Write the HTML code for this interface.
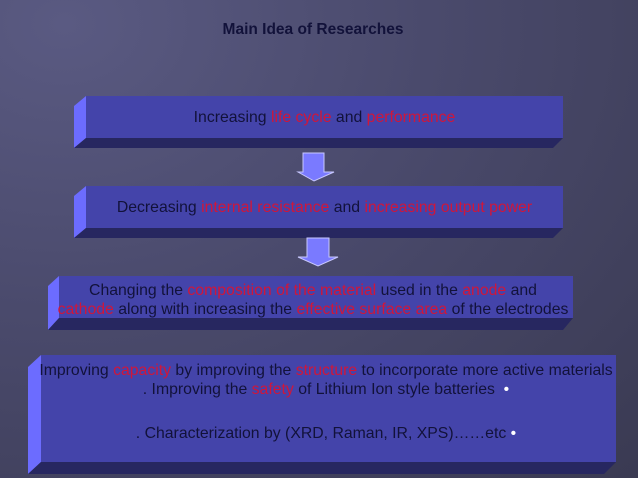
<!DOCTYPE html>
<html><head><style>
html,body{margin:0;padding:0}
body{width:638px;height:478px;overflow:hidden;position:relative;background:radial-gradient(ellipse at 10% 5%,#5a5a82 0%,#4a4a6c 45%,#3a3a52 100%);font-family:"Liberation Sans",sans-serif}
.t{position:absolute;font-size:15.8px;color:#12123a;text-align:center;white-space:nowrap}
.r{color:#d0163a}
</style></head><body>
<svg width="638" height="478" style="position:absolute;left:0;top:0">
<g>
<polygon points="74,106 86,96 86,138 74,148" fill="#6c6cff"/>
<rect x="86" y="96" width="477" height="42" fill="#4444aa"/>
<polygon points="86,138 563,138 553,148 74,148" fill="#272760"/>
</g>
<g>
<polygon points="74,196 86,186 86,228 74,238" fill="#6c6cff"/>
<rect x="86" y="186" width="477" height="42" fill="#4444aa"/>
<polygon points="86,228 563,228 553,238 74,238" fill="#272760"/>
</g>
<g>
<polygon points="48,286 59,276 59,318 48,330" fill="#6c6cff"/>
<rect x="59" y="276" width="514" height="42" fill="#4444aa"/>
<polygon points="59,318 573,318 563,330 48,330" fill="#272760"/>
</g>
<g>
<polygon points="28,367 41,355 41,462 28,474" fill="#6c6cff"/>
<rect x="41" y="355" width="575" height="107" fill="#4444aa"/>
<polygon points="41,462 616,462 604,474 28,474" fill="#272760"/>
</g>
<polygon points="303,153 324,153 324,172 334,172 314,181 298,172 303,172" fill="#7a7aff" stroke="#c8c8ff" stroke-width="1"/>
<polygon points="307,238 329,238 329,257 338,257 318,266 298,257 307,257" fill="#7a7aff" stroke="#c8c8ff" stroke-width="1"/>
</svg>
<div class="t" style="left:0;width:626px;top:21px;font-weight:bold;font-size:15.5px">Main Idea of Researches</div>
<div class="t" style="left:86px;width:477px;top:109px">Increasing <span class="r">life cycle</span> and <span class="r">performance</span></div>
<div class="t" style="left:86px;width:477px;top:199px">Decreasing <span class="r">internal resistance</span> and <span class="r">increasing output power</span></div>
<div class="t" style="left:48px;width:530px;top:281px;line-height:19px">Changing the <span class="r">composition of the material</span> used in the <span class="r">anode</span> and<br><span class="r">cathode</span> along with increasing the <span class="r">effective surface area</span> of the electrodes</div>
<div class="t" style="left:28px;width:596px;top:362px;line-height:18.5px">Improving <span class="r">capacity</span> by improving the <span class="r">structure</span> to incorporate more active materials<br>. Improving the <span class="r">safety</span> of Lithium Ion style batteries &nbsp;<span style="color:#fff">•</span><br><br><span style="position:relative;top:7px">. Characterization by (XRD, Raman, IR, XPS)……etc <span style="color:#fff">•</span></span></div>
</body></html>
